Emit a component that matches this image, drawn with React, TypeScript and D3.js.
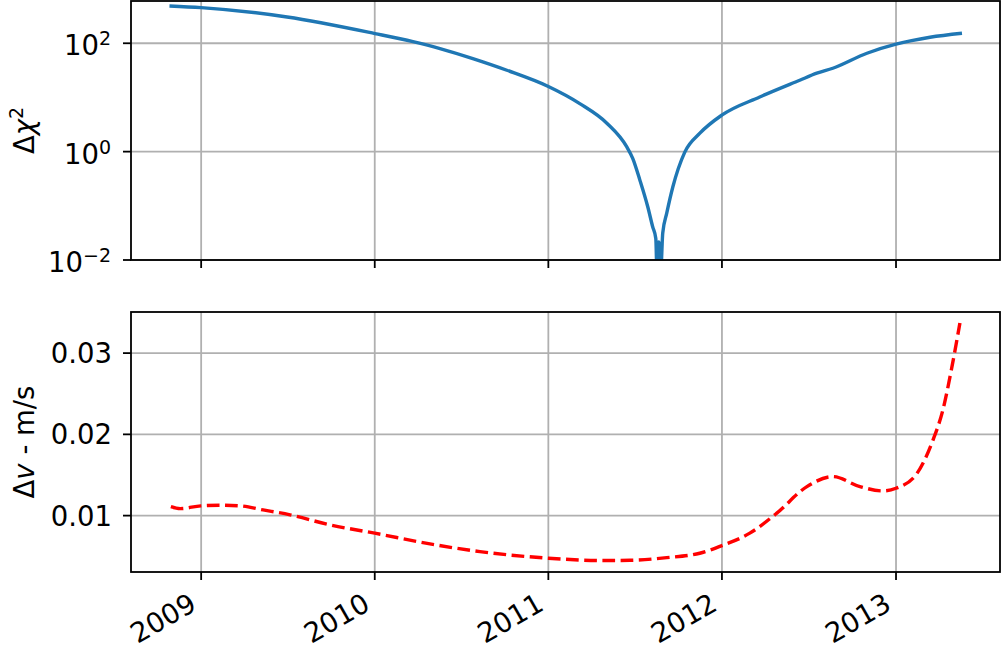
import { useEffect, useRef } from 'react';
import * as d3 from 'd3';

// Δχ² versus time (decimal years)
const chiYears = [
  2008.818, 2009.0, 2009.495, 2010.001, 2010.22, 2010.376, 2010.565, 2010.761, 2010.997,
  2011.181, 2011.337, 2011.452, 2011.486, 2011.527, 2011.573, 2011.601, 2011.619, 2011.627,
  2011.636, 2011.645, 2011.659, 2011.682, 2011.717, 2011.786, 2011.873, 2011.999, 2012.217,
  2012.447, 2012.545, 2012.637, 2012.833, 2013.0, 2013.196, 2013.38
];
const chiValues = [
  488, 455, 305, 151, 107, 79.8, 52.1, 31.8, 16.1,
  7.7, 3.35, 1.22, 0.75, 0.3, 0.095, 0.041, 0.025, 0.004,
  0.0215, 0.004, 0.0315, 0.073, 0.222, 0.98, 2.19, 4.71, 10.2,
  20.8, 28.0, 34.6, 65.5, 96, 129, 153
];

// Δv (m/s) versus time, lower panel
const dvYears = [
  2008.826, 2008.879, 2008.998, 2009.109, 2009.224, 2009.357, 2009.512, 2009.742, 2010.0,
  2010.318, 2010.606, 2011.0, 2011.314, 2011.47, 2011.682, 2011.872, 2012.0, 2012.16,
  2012.315, 2012.488, 2012.637, 2012.793, 2012.925, 2013.0, 2013.121, 2013.213, 2013.27,
  2013.322, 2013.368
];
const dvValues = [
  0.0111, 0.01086, 0.0112, 0.01128, 0.0112, 0.0107, 0.0101, 0.00886, 0.00784,
  0.00652, 0.00557, 0.00476, 0.00447, 0.0045, 0.00483, 0.00537, 0.00631, 0.00784,
  0.0103, 0.01357, 0.0148, 0.01357, 0.01304, 0.01337, 0.0152, 0.0193, 0.023,
  0.0283, 0.0337
];

const yearTicks = [2009, 2010, 2011, 2012, 2013];
const chiTickExponents = [-2, 0, 2];
const dvTicks = [0.01, 0.02, 0.03];

const FONT = '"DejaVu Sans", sans-serif';
const FS = 27.5;
const SUP = 19;

function yearToDate(y: number): Date {
  const yr = Math.floor(y);
  const start = Date.UTC(yr, 0, 1);
  const end = Date.UTC(yr + 1, 0, 1);
  return new Date(start + (y - yr) * (end - start));
}

export default function App() {
  const svgRef = useRef<SVGSVGElement>(null);

  useEffect(() => {
    if (!svgRef.current) return;
    const svg = d3.select(svgRef.current);
    svg.selectAll('*').remove();

    const left = 131;
    const right = 1000;
    const top1 = { y0: 1, y1: 260 };
    const top2 = { y0: 312, y1: 572 };

    const x = d3.scaleUtc()
      .domain([yearToDate(2008.597), yearToDate(2013.599)])
      .range([left, right]);

    const yChi = d3.scaleLog()
      .domain([0.01, Math.pow(10, 2.78)])
      .range([top1.y1, top1.y0]);

    const yDv = d3.scaleLinear()
      .domain([0.00306, 0.03506])
      .range([top2.y1, top2.y0]);

    const defs = svg.append('defs');
    defs.append('clipPath').attr('id', 'clip1')
      .append('rect')
      .attr('x', left).attr('y', top1.y0)
      .attr('width', right - left).attr('height', top1.y1 - top1.y0);
    defs.append('clipPath').attr('id', 'clip2')
      .append('rect')
      .attr('x', left).attr('y', top2.y0)
      .attr('width', right - left).attr('height', top2.y1 - top2.y0);

    const gridColor = '#b0b0b0';
    const gridW = 1.8;
    const tickLen = 8;

    const drawPanel = (y0: number, y1: number, yVals: number[], yPos: (v: number) => number, showXLabels: boolean) => {
      const g = svg.append('g');
      // grid
      yearTicks.forEach(yr => {
        const px = x(yearToDate(yr));
        g.append('line')
          .attr('x1', px).attr('x2', px).attr('y1', y0).attr('y2', y1)
          .attr('stroke', gridColor).attr('stroke-width', gridW);
      });
      yVals.forEach(v => {
        const py = yPos(v);
        g.append('line')
          .attr('x1', left).attr('x2', right).attr('y1', py).attr('y2', py)
          .attr('stroke', gridColor).attr('stroke-width', gridW);
      });
      // ticks
      yearTicks.forEach(yr => {
        const px = x(yearToDate(yr));
        g.append('line')
          .attr('x1', px).attr('x2', px).attr('y1', y1).attr('y2', y1 + tickLen)
          .attr('stroke', '#000').attr('stroke-width', gridW);
        if (showXLabels) {
          g.append('text')
            .attr('transform', `translate(${px - 3},${y1 + 37}) rotate(-30)`)
            .attr('text-anchor', 'end')
            .attr('font-family', FONT)
            .attr('font-size', FS)
            .attr('fill', '#000')
            .text(String(yr));
        }
      });
      yVals.forEach(v => {
        const py = yPos(v);
        g.append('line')
          .attr('x1', left - tickLen).attr('x2', left).attr('y1', py).attr('y2', py)
          .attr('stroke', '#000').attr('stroke-width', gridW);
      });
      return g;
    };

    // upper panel
    drawPanel(top1.y0, top1.y1, chiTickExponents.map(e => Math.pow(10, e)), v => yChi(v), false);

    chiTickExponents.forEach(e => {
      const py = yChi(Math.pow(10, e));
      const t = svg.append('text')
        .attr('x', 111)
        .attr('y', py + 12)
        .attr('text-anchor', 'end')
        .attr('font-family', FONT)
        .attr('font-size', FS)
        .attr('fill', '#000');
      t.append('tspan').text('10');
      t.append('tspan')
        .attr('font-size', SUP)
        .attr('dy', -10)
        .text(e < 0 ? `\u2212${Math.abs(e)}` : String(e));
    });

    const chiLine = d3.line<number>()
      .x((_, i) => x(yearToDate(chiYears[i])))
      .y(d => yChi(d))
      .curve(d3.curveMonotoneX);

    svg.append('path')
      .attr('clip-path', 'url(#clip1)')
      .attr('d', chiLine(chiValues) || '')
      .attr('fill', 'none')
      .attr('stroke', '#1f77b4')
      .attr('stroke-width', 3.4)
      .attr('stroke-linejoin', 'round');

    // lower panel
    drawPanel(top2.y0, top2.y1, dvTicks, v => yDv(v), true);

    dvTicks.forEach(v => {
      svg.append('text')
        .attr('x', 112)
        .attr('y', yDv(v) + 10)
        .attr('text-anchor', 'end')
        .attr('font-family', FONT)
        .attr('font-size', FS)
        .attr('fill', '#000')
        .text(d3.format('.2f')(v));
    });

    const dvLine = d3.line<number>()
      .x((_, i) => x(yearToDate(dvYears[i])))
      .y(d => yDv(d))
      .curve(d3.curveMonotoneX);

    svg.append('path')
      .attr('clip-path', 'url(#clip2)')
      .attr('d', dvLine(dvValues) || '')
      .attr('fill', 'none')
      .attr('stroke', '#ff0000')
      .attr('stroke-width', 3.4)
      .attr('stroke-dasharray', '12.7,5.5');

    // spines
    [top1, top2].forEach(p => {
      svg.append('rect')
        .attr('x', left).attr('y', p.y0)
        .attr('width', right - left).attr('height', p.y1 - p.y0)
        .attr('fill', 'none')
        .attr('stroke', '#000')
        .attr('stroke-width', 1.8);
    });

    // y labels
    const lab1 = svg.append('text')
      .attr('transform', `translate(34,${(top1.y0 + top1.y1) / 2}) rotate(-90)`)
      .attr('text-anchor', 'middle')
      .attr('font-family', FONT)
      .attr('font-size', FS)
      .attr('fill', '#000');
    lab1.append('tspan').text('\u0394');
    lab1.append('tspan').attr('font-style', 'italic').text('\u03c7');
    lab1.append('tspan').attr('font-size', SUP).attr('dy', -11).text('2');

    const lab2 = svg.append('text')
      .attr('transform', `translate(34,${(top2.y0 + top2.y1) / 2}) rotate(-90)`)
      .attr('text-anchor', 'middle')
      .attr('font-family', FONT)
      .attr('font-size', FS)
      .attr('fill', '#000');
    lab2.append('tspan').text('\u0394');
    lab2.append('tspan').attr('font-style', 'italic').text('v');
    lab2.append('tspan').text(' - m/s');
  }, []);

  return (
    <svg
      ref={svgRef}
      width={1001}
      height={645}
      style={{ position: 'absolute', left: 0, top: 0, background: '#fff' }}
    />
  );
}
